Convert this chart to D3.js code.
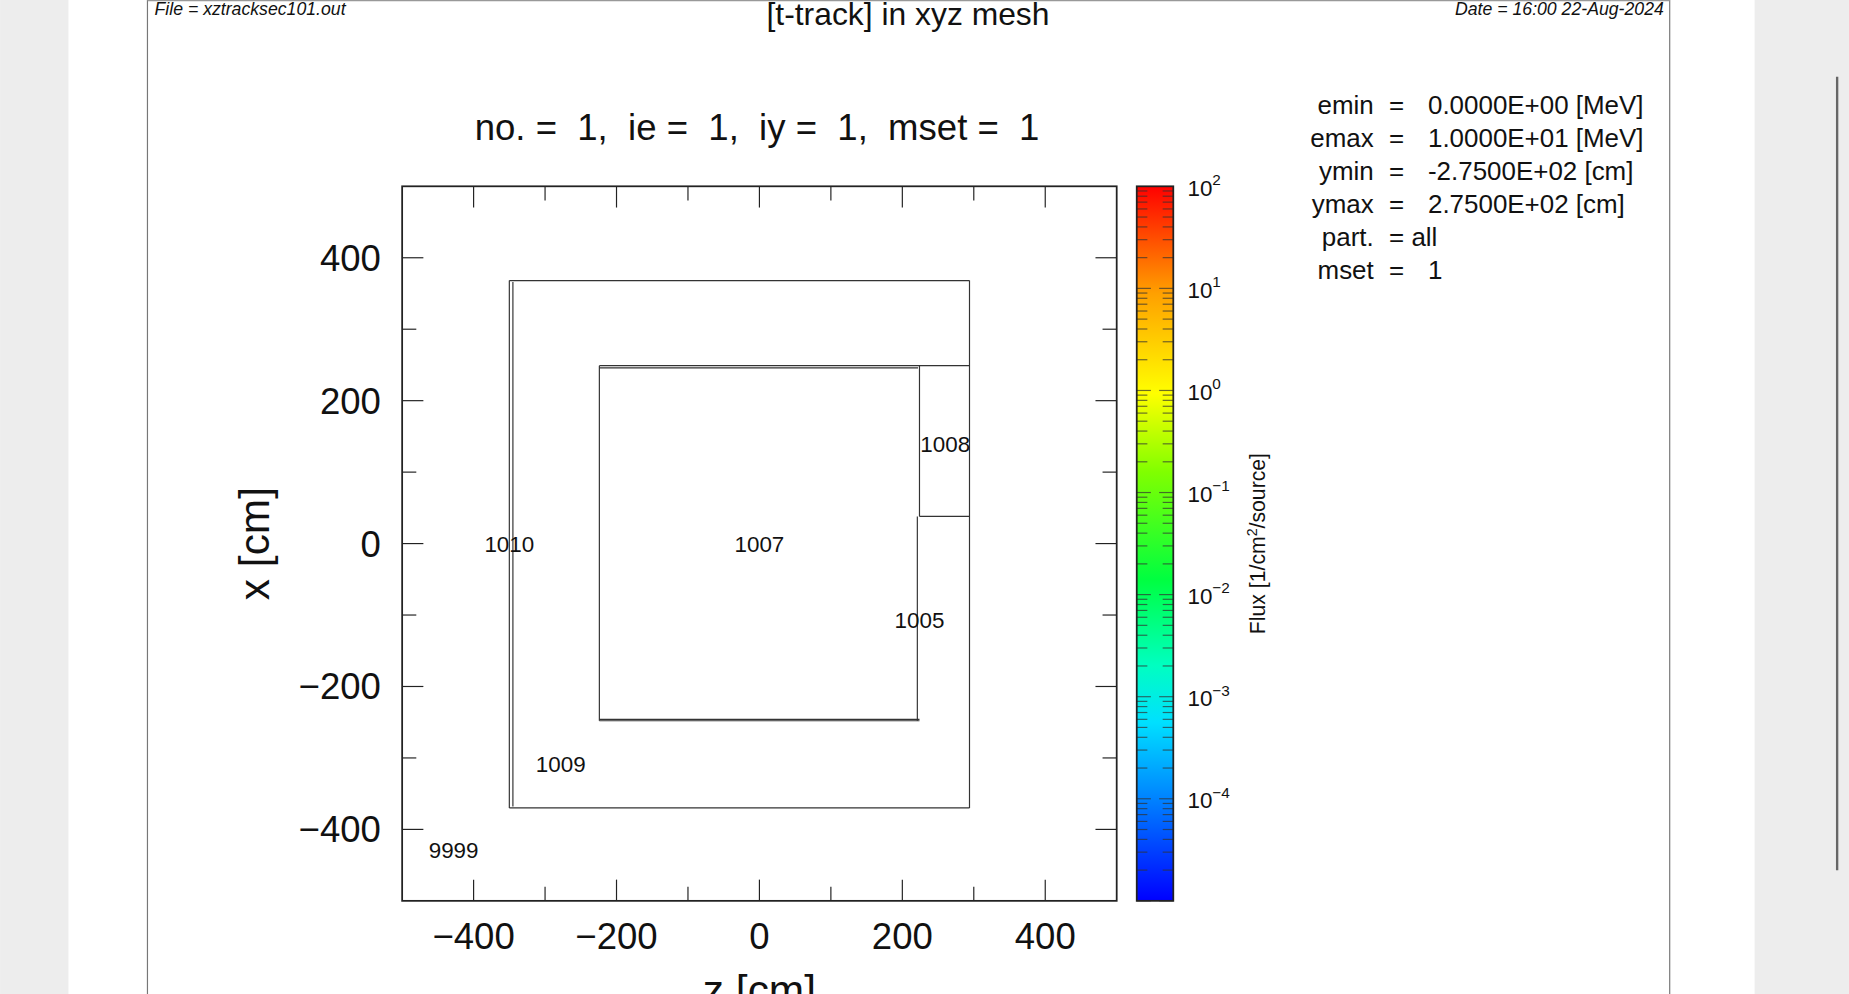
<!DOCTYPE html><html><head><meta charset="utf-8">
<script src="https://cdn.jsdelivr.net/npm/d3@7"></script>
<style>body{margin:0;overflow:hidden;background:#fff}svg{display:block}text{font-family:"Liberation Sans",Arial,sans-serif;fill:#111}</style>
</head><body><svg id="c" width="1849" height="994" viewBox="0 0 1568 843"></svg>
<script>
const zTicks=[-400,-200,0,200,400];
const xTicks=[-400,-200,0,200,400];
const cbExps=[2,1,0,-1,-2,-3,-4];
// region boundary segments [z1,x1,z2,x2] in cm
const segments=[
 [-350,368,294,368],[-350,-370,294,-370],[-350,-370,-350,368],[-345,-368,-345,366],[294,-370,294,368],
 [-224,249,294,249],[-224,246,222,246],[-224,-248,224,-248],[-224,-246,224,-246],[-224,-248,-224,249],
 [224,38,224,249],[224,38,294,38],[221,-248,221,38]
];
const regions=[["1010",-350,0],["1007",0,0],["1008",260,140],["1005",224,-107],["1009",-278,-308],["9999",-428,-428]];
const legend=[["emin","=","0.0000E+00 [MeV]"],["emax","=","1.0000E+01 [MeV]"],["ymin","=","-2.7500E+02 [cm]"],["ymax","=","2.7500E+02 [cm]"],["part.","= all",""],["mset","=","1"]];

const svg=d3.select("#c");
svg.append("rect").attr("width",1568).attr("height",843).attr("fill","#ededed");
svg.append("rect").attr("x",58).attr("width",1430).attr("height",843).attr("fill","#fff");
[125,1416].forEach(x=>svg.append("line").attr("x1",x).attr("x2",x).attr("y1",0).attr("y2",843).attr("stroke","#777"));
svg.append("line").attr("x1",125).attr("x2",1416).attr("y1",0.5).attr("y2",0.5).attr("stroke","#999");
svg.append("line").attr("x1",1558).attr("x2",1558).attr("y1",65).attr("y2",738).attr("stroke","#666").attr("stroke-width",2);

svg.append("text").attr("x",131).attr("y",13).attr("font-size",15).attr("font-style","italic").text("File = xztracksec101.out");
svg.append("text").attr("x",1411).attr("y",13).attr("font-size",15).attr("font-style","italic").attr("text-anchor","end").text("Date = 16:00 22-Aug-2024");
svg.append("text").attr("x",770).attr("y",21).attr("font-size",27).attr("text-anchor","middle").text("[t-track] in xyz mesh");
svg.append("text").attr("x",642).attr("y",119).attr("font-size",31).attr("text-anchor","middle").attr("xml:space","preserve").text("no. =  1,  ie =  1,  iy =  1,  mset =  1");

const L=341,R=947,T=158,B=764;
const zs=d3.scaleLinear([-500,500],[L,R]), xs=d3.scaleLinear([-500,500],[B,T]);
const g=svg.append("g");
const minor=d3.range(-400,401,100);
minor.forEach(v=>{const len=v%200===0?18:12;
 g.append("line").attr("x1",zs(v)).attr("x2",zs(v)).attr("y1",B).attr("y2",B-len).attr("stroke","#222");
 g.append("line").attr("x1",zs(v)).attr("x2",zs(v)).attr("y1",T).attr("y2",T+len).attr("stroke","#222");
 g.append("line").attr("y1",xs(v)).attr("y2",xs(v)).attr("x1",L).attr("x2",L+len).attr("stroke","#222");
 g.append("line").attr("y1",xs(v)).attr("y2",xs(v)).attr("x1",R).attr("x2",R-len).attr("stroke","#222");});
g.append("rect").attr("x",L).attr("y",T).attr("width",R-L).attr("height",B-T).attr("fill","none").attr("stroke","#222").attr("stroke-width",1.5);
zTicks.forEach(v=>g.append("text").attr("x",zs(v)).attr("y",B+41).attr("font-size",31).attr("text-anchor","middle").text(v<0?"\u2212"+(-v):v));
xTicks.forEach(v=>g.append("text").attr("x",L-18).attr("y",xs(v)+11).attr("font-size",31).attr("text-anchor","end").text(v<0?"\u2212"+(-v):v));
svg.append("text").attr("x",644).attr("y",852).attr("font-size",36).attr("text-anchor","middle").text("z [cm]");
svg.append("text").attr("transform","translate(228,461) rotate(-90)").attr("font-size",36).attr("text-anchor","middle").text("x [cm]");
segments.forEach(s=>g.append("line").attr("x1",zs(s[0])).attr("y1",xs(s[1])).attr("x2",zs(s[2])).attr("y2",xs(s[3])).attr("stroke","#333").attr("stroke-width",1));
regions.forEach(r=>g.append("text").attr("x",zs(r[1])).attr("y",xs(r[2])+7).attr("font-size",19).attr("text-anchor","middle").text(r[0]));

// colorbar
const cx=964,cw=31;
const cs=d3.scaleLog([1e-5,1e2],[B,T]);
const defs=svg.append("defs");
const grad=defs.append("linearGradient").attr("id","jet").attr("x1",0).attr("x2",0).attr("y1",1).attr("y2",0);
const jetStops=[["#0000ff",0],["#0080ff",0.14],["#00e0ff",0.25],["#00ffc0",0.33],["#00ff40",0.45],["#80ff00",0.6],["#ffff00",0.71],["#ffa000",0.85],["#ff0000",1]];
jetStops.forEach(s=>grad.append("stop").attr("offset",s[1]).attr("stop-color",s[0]));
svg.append("rect").attr("x",cx).attr("y",T).attr("width",cw).attr("height",B-T).attr("fill","url(#jet)");
for(let e=-5;e<2;e++){for(let m=1;m<10;m++){const y=cs(m*Math.pow(10,e));const len=m===1?12:9;
 svg.append("line").attr("x1",cx).attr("x2",cx+len).attr("y1",y).attr("y2",y).attr("stroke","#333").attr("opacity",0.7);
 svg.append("line").attr("x1",cx+cw).attr("x2",cx+cw-len).attr("y1",y).attr("y2",y).attr("stroke","#333").attr("opacity",0.7);}}
svg.append("rect").attr("x",cx).attr("y",T).attr("width",cw).attr("height",B-T).attr("fill","none").attr("stroke","#222").attr("stroke-width",1.5);
cbExps.forEach(e=>{const t=svg.append("text").attr("x",cx+43).attr("y",cs(Math.pow(10,e))+8).attr("font-size",19).text("10");
 t.append("tspan").attr("dy",-9).attr("font-size",13).text(e<0?"\u2212"+(-e):e);});
const fl=svg.append("text").attr("transform","translate(1073,461) rotate(-90)").attr("font-size",18).attr("text-anchor","middle").text("Flux [1/cm");
fl.append("tspan").attr("dy",-7).attr("font-size",12).text("2");
fl.append("tspan").attr("dy",7).text("/source]");

legend.forEach((r,i)=>{const y=97+i*28;
 svg.append("text").attr("x",1165).attr("y",y).attr("font-size",22).attr("text-anchor","end").text(r[0]);
 svg.append("text").attr("x",1178).attr("y",y).attr("font-size",22).text(r[1]);
 svg.append("text").attr("x",1211).attr("y",y).attr("font-size",22).text(r[2]);});
</script></body></html>
